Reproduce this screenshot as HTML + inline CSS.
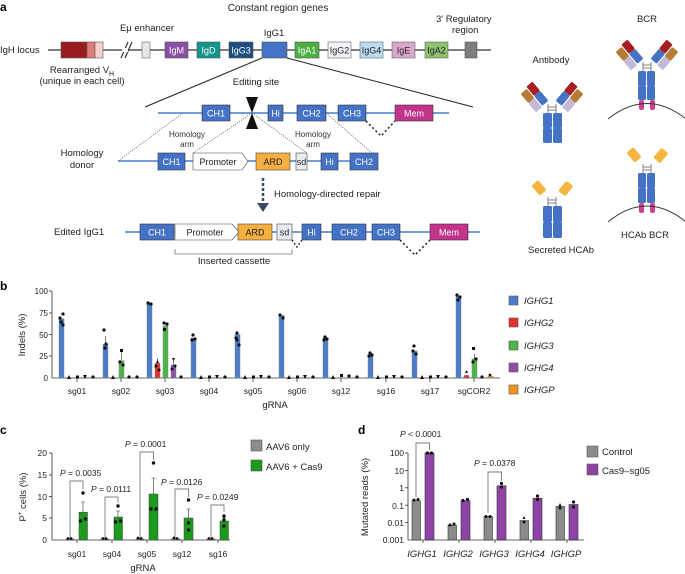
<!DOCTYPE html>
<html><head><meta charset="utf-8"><style>
html,body{margin:0;padding:0;background:#fff;}
svg{display:block;font-family:"Liberation Sans",sans-serif;}
</style></head><body>
<svg width="685" height="574" viewBox="0 0 685 574" xmlns="http://www.w3.org/2000/svg">
<!-- ===== Panel a ===== -->
<text x="0" y="11" font-size="12" font-weight="bold">a</text>
<text x="278" y="11" font-size="10" text-anchor="middle" fill="#222">Constant region genes</text>
<text x="147" y="31" font-size="9.5" text-anchor="middle" fill="#222">Eμ enhancer</text>
<text x="274" y="36" font-size="9.5" text-anchor="middle" fill="#222">IgG1</text>
<text x="436" y="22" font-size="9.5" fill="#222">3′ Regulatory</text>
<text x="452" y="33" font-size="9.5" fill="#222">region</text>
<text x="0" y="53" font-size="9.5" fill="#222">IgH locus</text>
<line x1="48" y1="50" x2="491" y2="50" stroke="#333" stroke-width="1.2"/>
<rect x="61" y="42" width="26" height="16" fill="#9b1c1f" stroke="#555" stroke-width="0.6"/>
<rect x="87" y="42" width="8" height="16" fill="#e07b7b" stroke="#555" stroke-width="0.6"/>
<rect x="95" y="42" width="8" height="16" fill="#f6d0d0" stroke="#555" stroke-width="0.6"/>
<line x1="121" y1="58" x2="128" y2="42" stroke="#333" stroke-width="1.2"/>
<line x1="125" y1="58" x2="132" y2="42" stroke="#333" stroke-width="1.2"/>
<rect x="122" y="48" width="6" height="4" fill="#fff"/>
<rect x="142" y="42" width="8" height="16" fill="#e8e8e8" stroke="#666" stroke-width="0.6"/>
<g font-size="9" text-anchor="middle">
<rect x="165" y="42" width="23" height="16" fill="#8b4fa8" stroke="#555" stroke-width="0.6"/><text x="176.5" y="53.5" fill="#fff">IgM</text>
<rect x="197" y="42" width="23" height="16" fill="#13968a" stroke="#555" stroke-width="0.6"/><text x="208.5" y="53.5" fill="#fff">IgD</text>
<rect x="229" y="42" width="24" height="16" fill="#1c4e80" stroke="#555" stroke-width="0.6"/><text x="241" y="53.5" fill="#fff">IgG3</text>
<rect x="262" y="42" width="25" height="16" fill="#4472c4" stroke="#555" stroke-width="0.6"/>
<rect x="295" y="42" width="24" height="16" fill="#4caf3f" stroke="#555" stroke-width="0.6"/><text x="307" y="53.5" fill="#fff">IgA1</text>
<rect x="328" y="42" width="23" height="16" fill="#f1f3f8" stroke="#666" stroke-width="0.6"/><text x="339.5" y="53.5" fill="#222">IgG2</text>
<rect x="360" y="42" width="23" height="16" fill="#bcdcf3" stroke="#666" stroke-width="0.6"/><text x="371.5" y="53.5" fill="#222">IgG4</text>
<rect x="392" y="42" width="23" height="16" fill="#d9a8cc" stroke="#666" stroke-width="0.6"/><text x="403.5" y="53.5" fill="#222">IgE</text>
<rect x="425" y="42" width="23" height="16" fill="#8dc26f" stroke="#666" stroke-width="0.6"/><text x="436.5" y="53.5" fill="#222">IgA2</text>
</g>
<rect x="465" y="42" width="12" height="16" fill="#7d7d7d" stroke="#555" stroke-width="0.6"/>
<text x="82" y="73" font-size="9.5" text-anchor="middle" fill="#222">Rearranged V<tspan font-size="7" dy="3">H</tspan></text>
<text x="82" y="84" font-size="9.5" text-anchor="middle" fill="#222">(unique in each cell)</text>
<line x1="145" y1="107" x2="262" y2="58" stroke="#222" stroke-width="1"/>
<line x1="287" y1="58" x2="473" y2="107" stroke="#222" stroke-width="1"/>
<text x="256" y="85" font-size="9.5" text-anchor="middle" fill="#222">Editing site</text>
<!-- row 2 -->
<line x1="158" y1="113" x2="449" y2="113" stroke="#4a7cd0" stroke-width="1.5"/>
<g font-size="9" text-anchor="middle" fill="#fff" stroke-width="0.6">
<rect x="202" y="105" width="28" height="16" fill="#4472c4" stroke="#334"/><text x="216" y="116.5" stroke="none">CH1</text>
<rect x="268" y="105" width="15" height="16" fill="#4472c4" stroke="#334"/><text x="275.5" y="116.5" stroke="none">Hi</text>
<rect x="297" y="105" width="29" height="16" fill="#4472c4" stroke="#334"/><text x="311.5" y="116.5" stroke="none">CH2</text>
<rect x="338" y="105" width="28" height="16" fill="#4472c4" stroke="#334"/><text x="352" y="116.5" stroke="none">CH3</text>
<rect x="395" y="105" width="38" height="16" fill="#c2338a" stroke="#334"/><text x="414" y="116.5" stroke="none">Mem</text>
</g>
<polyline points="366,121 381,136 395,121" fill="none" stroke="#222" stroke-width="1.5" stroke-dasharray="2,2.5"/>
<polygon points="246,97 258,97 252,113" fill="#111"/>
<polygon points="252,113 246,129 258,129" fill="#111"/>
<g stroke="#555" stroke-width="0.7" stroke-dasharray="1.2,1.2" fill="none">
<line x1="183" y1="113" x2="118" y2="161"/>
<line x1="252" y1="113" x2="193" y2="153"/>
<line x1="252" y1="113" x2="307" y2="153"/>
<line x1="326" y1="113" x2="372" y2="153"/>
</g>
<g font-size="8" text-anchor="middle" fill="#333">
<text x="187" y="137">Homology</text><text x="187" y="147">arm</text>
<text x="313" y="137">Homology</text><text x="313" y="147">arm</text>
</g>
<text x="82" y="156" font-size="9.5" text-anchor="middle" fill="#222">Homology</text>
<text x="82" y="168" font-size="9.5" text-anchor="middle" fill="#222">donor</text>
<!-- row 3 -->
<line x1="118" y1="161" x2="378" y2="161" stroke="#4a7cd0" stroke-width="1.5"/>
<g font-size="9" text-anchor="middle" stroke-width="0.6">
<rect x="158" y="153" width="27" height="17" fill="#4472c4" stroke="#334"/><text x="171.5" y="165" fill="#fff">CH1</text>
<polygon points="193,153 242,153 248,161.5 242,170 193,170" fill="#fff" stroke="#444"/><text x="218" y="165" fill="#222">Promoter</text>
<rect x="256" y="153" width="34" height="17" fill="#f5b041" stroke="#444"/><text x="273" y="165" fill="#222">ARD</text>
<rect x="296" y="153" width="11" height="17" fill="#e8ecf2" stroke="#444"/><text x="301.5" y="165" fill="#222">sd</text>
<rect x="321" y="153" width="17" height="17" fill="#4472c4" stroke="#334"/><text x="329.5" y="165" fill="#fff">Hi</text>
<rect x="350" y="153" width="28" height="17" fill="#4472c4" stroke="#334"/><text x="364" y="165" fill="#fff">CH2</text>
</g>
<line x1="263" y1="178" x2="263" y2="204" stroke="#3a4a63" stroke-width="2.5" stroke-dasharray="3,2"/>
<polygon points="257,203 269,203 263,212" fill="#3a4a63"/>
<text x="274" y="197" font-size="9.5" fill="#222">Homology-directed repair</text>
<!-- row 4 -->
<text x="54" y="235" font-size="9.5" fill="#222">Edited IgG1</text>
<line x1="125" y1="232" x2="480" y2="232" stroke="#4a7cd0" stroke-width="1.5"/>
<g font-size="9" text-anchor="middle" stroke-width="0.6">
<rect x="140" y="224" width="34" height="16" fill="#4472c4" stroke="#334"/><text x="157" y="235.5" fill="#fff">CH1</text>
<polygon points="175,224 232,224 239,232 232,240 175,240" fill="#fff" stroke="#444"/><text x="205" y="235.5" fill="#222">Promoter</text>
<rect x="238" y="224" width="34" height="16" fill="#f5b041" stroke="#444"/><text x="255" y="235.5" fill="#222">ARD</text>
<rect x="277" y="224" width="15" height="16" fill="#e8ecf2" stroke="#444"/><text x="284.5" y="235.5" fill="#222">sd</text>
<rect x="302" y="224" width="19" height="16" fill="#4472c4" stroke="#334"/><text x="311.5" y="235.5" fill="#fff">Hi</text>
<rect x="332" y="224" width="34" height="16" fill="#4472c4" stroke="#334"/><text x="349" y="235.5" fill="#fff">CH2</text>
<rect x="372" y="224" width="28" height="16" fill="#4472c4" stroke="#334"/><text x="386" y="235.5" fill="#fff">CH3</text>
<rect x="430" y="224" width="38" height="16" fill="#c2338a" stroke="#334"/><text x="449" y="235.5" fill="#fff">Mem</text>
</g>
<polyline points="292,240 297,247 302,240" fill="none" stroke="#222" stroke-width="1.4" stroke-dasharray="1.8,2"/>
<polyline points="400,240 415,255 430,240" fill="none" stroke="#222" stroke-width="1.5" stroke-dasharray="2,2.5"/>
<polyline points="175,249 175,254 292,254 292,249" fill="none" stroke="#777" stroke-width="0.8"/>
<text x="234" y="264" font-size="9.5" text-anchor="middle" fill="#222">Inserted cassette</text>

<!-- antibodies -->
<defs>
<g id="armL"><rect x="-4" y="-14" width="8" height="13" rx="1.5" fill="#4472c4"/><rect x="-4" y="-26" width="8" height="12" rx="1.5" fill="#a61e22"/><rect x="-13" y="-12" width="8" height="12" rx="1.5" fill="#c4b8dc"/><rect x="-13" y="-24" width="8" height="12" rx="1.5" fill="#b57d33"/></g>
<g id="armR"><rect x="-4" y="-14" width="8" height="13" rx="1.5" fill="#4472c4"/><rect x="-4" y="-26" width="8" height="12" rx="1.5" fill="#a61e22"/><rect x="5" y="-12" width="8" height="12" rx="1.5" fill="#c4b8dc"/><rect x="5" y="-24" width="8" height="12" rx="1.5" fill="#b57d33"/></g>
<g id="hc"><rect x="-4" y="-18" width="9" height="13" rx="2" fill="#f5b63f"/></g>
<g id="ladder" stroke="#666" stroke-width="0.8" fill="none"><line x1="-4" y1="0" x2="-4" y2="9"/><line x1="4" y1="0" x2="4" y2="9"/><line x1="-4" y1="3" x2="4" y2="3"/><line x1="-4" y1="6" x2="4" y2="6"/></g>
</defs>
<text x="551" y="63" font-size="9.5" text-anchor="middle" fill="#222">Antibody</text>
<use href="#ladder" x="552" y="104"/>
<rect x="543" y="113" width="9" height="15" rx="1.5" fill="#4472c4"/><rect x="543" y="128" width="9" height="15" rx="1.5" fill="#4472c4"/>
<rect x="553" y="113" width="9" height="15" rx="1.5" fill="#4472c4"/><rect x="553" y="128" width="9" height="15" rx="1.5" fill="#4472c4"/>
<use href="#armL" transform="translate(546,104) rotate(-40)"/>
<use href="#armR" transform="translate(558,104) rotate(40)"/>

<text x="647" y="22" font-size="9.5" text-anchor="middle" fill="#222">BCR</text>
<use href="#ladder" x="647" y="62"/>
<rect x="638" y="71" width="8" height="15" rx="1.5" fill="#4472c4"/><rect x="638" y="86" width="8" height="14" rx="1.5" fill="#4472c4"/>
<rect x="647" y="71" width="8" height="15" rx="1.5" fill="#4472c4"/><rect x="647" y="86" width="8" height="14" rx="1.5" fill="#4472c4"/>
<rect x="639" y="100" width="5" height="10" rx="2" fill="#d0408f"/><rect x="650" y="100" width="5" height="10" rx="2" fill="#d0408f"/>
<use href="#armL" transform="translate(641,62) rotate(-40)"/>
<use href="#armR" transform="translate(653,62) rotate(40)"/>
<path d="M608,119 Q647,88 686,119" fill="none" stroke="#333" stroke-width="0.9"/>

<use href="#ladder" x="552" y="197"/>
<rect x="543" y="206" width="9" height="16" rx="1.5" fill="#4472c4"/><rect x="543" y="222" width="9" height="16" rx="1.5" fill="#4472c4"/>
<rect x="553" y="206" width="9" height="16" rx="1.5" fill="#4472c4"/><rect x="553" y="222" width="9" height="16" rx="1.5" fill="#4472c4"/>
<use href="#hc" transform="translate(546,197) rotate(-40)"/>
<use href="#hc" transform="translate(558,197) rotate(40)"/>
<text x="561" y="253" font-size="9.5" text-anchor="middle" fill="#222">Secreted HCAb</text>

<use href="#ladder" x="647" y="164"/>
<rect x="638" y="173" width="8" height="15" rx="1.5" fill="#4472c4"/><rect x="638" y="188" width="8" height="15" rx="1.5" fill="#4472c4"/>
<rect x="647" y="173" width="8" height="15" rx="1.5" fill="#4472c4"/><rect x="647" y="188" width="8" height="15" rx="1.5" fill="#4472c4"/>
<rect x="639" y="203" width="5" height="10" rx="2" fill="#d0408f"/><rect x="650" y="203" width="5" height="10" rx="2" fill="#d0408f"/>
<use href="#hc" transform="translate(641,164) rotate(-40)"/>
<use href="#hc" transform="translate(653,164) rotate(40)"/>
<path d="M608,222 Q647,190 686,222" fill="none" stroke="#333" stroke-width="0.9"/>
<text x="645" y="238" font-size="9.5" text-anchor="middle" fill="#222">HCAb BCR</text>

<!-- ===== Panel b ===== -->
<text x="0" y="290" font-size="12" font-weight="bold">b</text>
<text transform="translate(25,335) rotate(-90)" font-size="9.5" text-anchor="middle" fill="#222">Indels (%)</text>
<g font-size="8" text-anchor="end" fill="#222">
<text x="48" y="294">100</text><text x="48" y="316">75</text><text x="48" y="338">50</text><text x="48" y="359">25</text><text x="48" y="381">0</text>
</g>
<g stroke="#333" stroke-width="0.8">
<line x1="52" y1="291" x2="52" y2="378"/><line x1="52" y1="378" x2="500" y2="378"/>
<line x1="49" y1="291" x2="52" y2="291"/><line x1="49" y1="313" x2="52" y2="313"/><line x1="49" y1="334.5" x2="52" y2="334.5"/><line x1="49" y1="356" x2="52" y2="356"/>
<line x1="77" y1="378" x2="77" y2="382"/><line x1="121" y1="378" x2="121" y2="382"/><line x1="165" y1="378" x2="165" y2="382"/><line x1="209" y1="378" x2="209" y2="382"/><line x1="253" y1="378" x2="253" y2="382"/><line x1="297" y1="378" x2="297" y2="382"/><line x1="341" y1="378" x2="341" y2="382"/><line x1="386" y1="378" x2="386" y2="382"/><line x1="430" y1="378" x2="430" y2="382"/><line x1="474" y1="378" x2="474" y2="382"/>
</g>
<g stroke="#888" stroke-width="0.5">
<rect x="59" y="318.8" width="5" height="59.2" fill="#4a7cc7"/>
<rect x="103" y="344.1" width="5" height="33.9" fill="#4a7cc7"/>
<rect x="119" y="360.6" width="5" height="17.4" fill="#4db34a"/>
<rect x="147" y="303.2" width="5" height="74.8" fill="#4a7cc7"/>
<rect x="155" y="363.2" width="5" height="14.8" fill="#e8312a"/>
<rect x="163" y="325.8" width="5" height="52.2" fill="#4db34a"/>
<rect x="171" y="365" width="5" height="13" fill="#8e4fa6"/>
<rect x="191" y="338" width="5" height="40" fill="#4a7cc7"/>
<rect x="235" y="334.5" width="5" height="43.5" fill="#4a7cc7"/>
<rect x="279" y="315.4" width="5" height="62.6" fill="#4a7cc7"/>
<rect x="323" y="338" width="5" height="40" fill="#4a7cc7"/>
<rect x="368" y="355.4" width="5" height="22.6" fill="#4a7cc7"/>
<rect x="412" y="351" width="5" height="27" fill="#4a7cc7"/>
<rect x="456" y="296.2" width="5" height="81.8" fill="#4a7cc7"/>
<rect x="464" y="375.4" width="5" height="2.6" fill="#e8312a"/>
<rect x="472" y="358.9" width="5" height="19.1" fill="#4db34a"/>
<rect x="488" y="376.3" width="5" height="1.7" fill="#f7941d"/>
</g>
<g stroke="#333" stroke-width="0.6">
<line x1="105.5" y1="344" x2="105.5" y2="336"/><line x1="121.5" y1="360" x2="121.5" y2="352"/><line x1="157.5" y1="363" x2="157.5" y2="358"/><line x1="173.5" y1="365" x2="173.5" y2="359"/><line x1="474.5" y1="359" x2="474.5" y2="354"/>
</g>
<g fill="#111">
<circle cx="60" cy="318" r="1.6"/><circle cx="63" cy="314" r="1.6"/><circle cx="61" cy="322" r="1.6"/><circle cx="63" cy="325" r="1.6"/>
<circle cx="104" cy="330" r="1.6"/><circle cx="106" cy="344" r="1.6"/><circle cx="105" cy="348" r="1.6"/>
<rect x="120" y="349" width="3" height="3"/><circle cx="120" cy="362" r="1.6"/><circle cx="123" cy="365" r="1.6"/>
<circle cx="148" cy="303" r="1.6"/><circle cx="151" cy="304" r="1.6"/>
<polygon points="157.5,360 156,363 159,363"/><circle cx="156" cy="366" r="1.5"/><circle cx="159" cy="370" r="1.5"/>
<circle cx="164" cy="323" r="1.6"/><circle cx="167" cy="324" r="1.6"/><rect x="163" y="328" width="3" height="3"/>
<polygon points="172,358 175,358 173.5,361"/><circle cx="172" cy="369" r="1.5"/><circle cx="175" cy="366" r="1.5"/>
<circle cx="193" cy="335" r="1.6"/><circle cx="192" cy="340" r="1.6"/><circle cx="195" cy="339" r="1.6"/>
<circle cx="237" cy="333" r="1.6"/><circle cx="236" cy="338" r="1.6"/><circle cx="239" cy="345" r="1.6"/><circle cx="237" cy="340" r="1.6"/>
<circle cx="280" cy="315" r="1.6"/><circle cx="283" cy="318" r="1.6"/>
<circle cx="325" cy="337" r="1.6"/><circle cx="324" cy="340" r="1.6"/><circle cx="327" cy="339" r="1.6"/>
<circle cx="370" cy="353" r="1.6"/><circle cx="369" cy="356" r="1.6"/><circle cx="372" cy="355" r="1.6"/>
<circle cx="414" cy="346" r="1.6"/><circle cx="413" cy="351" r="1.6"/><circle cx="416" cy="354" r="1.6"/>
<circle cx="457" cy="295" r="1.6"/><circle cx="460" cy="297" r="1.6"/><circle cx="458" cy="300" r="1.6"/>
<polygon points="466.5,370 465,373 468,373"/>
<rect x="472" y="347" width="3" height="3"/><circle cx="473" cy="362" r="1.6"/><circle cx="476" cy="359" r="1.6"/>
</g>
<g fill="#111">
<polygon points="69,379 67,375 71,375" transform="rotate(180 69 377)"/><rect x="76" y="375.5" width="3" height="3"/><polygon points="83,375 87,375 85,379"/><circle cx="93" cy="377" r="1.6"/>
<polygon points="113,379 111,375 115,375" transform="rotate(180 113 377)"/><circle cx="129" cy="377" r="1.6"/><circle cx="137" cy="377" r="1.6"/>
<circle cx="181" cy="377" r="1.6"/>
<polygon points="201,379 199,375 203,375" transform="rotate(180 201 377)"/><rect x="208" y="375.5" width="3" height="3"/><polygon points="215,375 219,375 217,379"/><circle cx="225" cy="377" r="1.6"/>
<polygon points="245,379 243,375 247,375" transform="rotate(180 245 377)"/><rect x="252" y="375.5" width="3" height="3"/><polygon points="259,375 263,375 261,379"/><circle cx="269" cy="377" r="1.6"/>
<polygon points="289,379 287,375 291,375" transform="rotate(180 289 377)"/><rect x="296" y="375.5" width="3" height="3"/><polygon points="303,375 307,375 305,379"/><circle cx="313" cy="377" r="1.6"/>
<polygon points="333,379 331,375 335,375" transform="rotate(180 333 377)"/><rect x="340" y="374" width="3" height="3"/><circle cx="349" cy="376" r="1.6"/><circle cx="357" cy="377" r="1.6"/>
<polygon points="378,379 376,375 380,375" transform="rotate(180 378 377)"/><rect x="385" y="375.5" width="3" height="3"/><polygon points="392,375 396,375 394,379"/><circle cx="402" cy="377" r="1.6"/>
<polygon points="422,379 420,375 424,375" transform="rotate(180 422 377)"/><rect x="429" y="375.5" width="3" height="3"/><polygon points="436,375 440,375 438,379"/><circle cx="446" cy="377" r="1.6"/>
<circle cx="482" cy="377" r="1.6"/><circle cx="490" cy="375" r="1.4"/>
</g>
<g font-size="8.5" text-anchor="middle" fill="#222">
<text x="77" y="394">sg01</text><text x="121" y="394">sg02</text><text x="165" y="394">sg03</text><text x="209" y="394">sg04</text><text x="253" y="394">sg05</text><text x="297" y="394">sg06</text><text x="341" y="394">sg12</text><text x="386" y="394">sg16</text><text x="430" y="394">sg17</text><text x="474" y="394">sgCOR2</text>
<text x="275" y="408" font-size="9.5">gRNA</text>
</g>
<g stroke="#555" stroke-width="0.6">
<rect x="509" y="296" width="9" height="9" fill="#4a7cc7"/>
<rect x="509" y="318" width="9" height="9" fill="#e8312a"/>
<rect x="509" y="341" width="9" height="9" fill="#4db34a"/>
<rect x="509" y="363" width="9" height="9" fill="#8e4fa6"/>
<rect x="509" y="385" width="9" height="9" fill="#f7941d"/>
</g>
<g font-size="9.5" font-style="italic" fill="#222">
<text x="524" y="304">IGHG1</text><text x="524" y="326">IGHG2</text><text x="524" y="349">IGHG3</text><text x="524" y="371">IGHG4</text><text x="524" y="393">IGHGP</text>
</g>

<!-- ===== Panel c ===== -->
<text x="0" y="434" font-size="12" font-weight="bold">c</text>
<text transform="translate(26,497) rotate(-90)" font-size="9.5" text-anchor="middle" fill="#222">P<tspan font-size="6" dy="-4">+</tspan><tspan dy="4"> cells (%)</tspan></text>
<g font-size="8.5" text-anchor="end" fill="#222">
<text x="47" y="456">20</text><text x="47" y="478">15</text><text x="47" y="500">10</text><text x="47" y="521">5</text><text x="47" y="543">0</text>
</g>
<g stroke="#333" stroke-width="0.8">
<line x1="52" y1="453" x2="52" y2="540"/><line x1="52" y1="540" x2="230" y2="540"/>
<line x1="49" y1="453" x2="52" y2="453"/><line x1="49" y1="475" x2="52" y2="475"/><line x1="49" y1="496.5" x2="52" y2="496.5"/><line x1="49" y1="518" x2="52" y2="518"/>
<line x1="77" y1="540" x2="77" y2="543"/><line x1="112" y1="540" x2="112" y2="543"/><line x1="147" y1="540" x2="147" y2="543"/><line x1="182" y1="540" x2="182" y2="543"/><line x1="218" y1="540" x2="218" y2="543"/>
</g>
<g stroke="#444" stroke-width="0.5">
<rect x="66" y="539" width="8" height="1" fill="#8c8c8c"/><rect x="101" y="539" width="8" height="1" fill="#8c8c8c"/><rect x="136" y="539" width="8" height="1" fill="#8c8c8c"/><rect x="171" y="539" width="9" height="1" fill="#8c8c8c"/><rect x="207" y="539" width="8" height="1" fill="#8c8c8c"/>
<rect x="79" y="512.2" width="8.5" height="27.8" fill="#1b9a1b"/>
<rect x="114" y="517" width="8.5" height="23" fill="#1b9a1b"/>
<rect x="149" y="494" width="9" height="46" fill="#1b9a1b"/>
<rect x="184" y="518" width="9" height="22" fill="#1b9a1b"/>
<rect x="220" y="521" width="8.5" height="19" fill="#1b9a1b"/>
</g>
<g stroke="#333" stroke-width="0.6" fill="none">
<path d="M81,502 h4 M83,502 v10"/><path d="M116,511 h4 M118,511 v6"/><path d="M151.5,478 h4 M153.5,478 v16"/><path d="M186.5,509 h4 M188.5,509 v9"/><path d="M222,518 h4 M224,518 v3"/>
</g>
<g fill="#111">
<circle cx="68" cy="538.5" r="1.4"/><circle cx="71" cy="538.5" r="1.4"/><circle cx="103" cy="538.5" r="1.4"/><circle cx="106" cy="538.5" r="1.4"/><circle cx="138" cy="538" r="1.4"/><circle cx="141" cy="538.5" r="1.4"/><circle cx="174" cy="538" r="1.4"/><circle cx="177" cy="538.5" r="1.4"/><circle cx="209" cy="538.5" r="1.4"/><circle cx="212" cy="538.5" r="1.4"/>
<circle cx="83" cy="493" r="1.7"/><circle cx="80.5" cy="521" r="1.7"/><circle cx="85.5" cy="519" r="1.7"/>
<circle cx="118" cy="506" r="1.7"/><circle cx="115.5" cy="522" r="1.7"/><circle cx="120.5" cy="521" r="1.7"/>
<circle cx="153.5" cy="463" r="1.7"/><circle cx="151" cy="509" r="1.7"/><circle cx="156" cy="509" r="1.7"/>
<circle cx="188.5" cy="500" r="1.7"/><circle cx="188.5" cy="523" r="1.7"/><circle cx="188.5" cy="530" r="1.7"/>
<circle cx="224" cy="516" r="1.7"/><circle cx="224" cy="520" r="1.7"/><circle cx="224" cy="526" r="1.7"/>
</g>
<g stroke="#555" stroke-width="0.7" fill="none">
<polyline points="70,537 70,481 83,481 83,489"/>
<polyline points="105,537 105,497 118,497 118,503"/>
<polyline points="140,537 140,452 153.5,452 153.5,460"/>
<polyline points="175,537 175,489 188.5,489 188.5,497"/>
<polyline points="211,537 211,505 224,505 224,512"/>
</g>
<g font-size="8.5" fill="#222">
<text x="60" y="476"><tspan font-style="italic">P</tspan> = 0.0035</text>
<text x="91" y="492"><tspan font-style="italic">P</tspan> = 0.0111</text>
<text x="125" y="447"><tspan font-style="italic">P</tspan> = 0.0001</text>
<text x="161" y="485"><tspan font-style="italic">P</tspan> = 0.0126</text>
<text x="197" y="500"><tspan font-style="italic">P</tspan> = 0.0249</text>
</g>
<g font-size="8.5" text-anchor="middle" fill="#222">
<text x="77" y="557">sg01</text><text x="112" y="557">sg04</text><text x="147" y="557">sg05</text><text x="182" y="557">sg12</text><text x="218" y="557">sg16</text>
<text x="143" y="571" font-size="9.5">gRNA</text>
</g>
<rect x="251" y="440" width="11" height="11" fill="#8c8c8c" stroke="#555" stroke-width="0.6"/>
<rect x="251" y="460" width="11" height="11" fill="#1b9a1b" stroke="#555" stroke-width="0.6"/>
<text x="266" y="450" font-size="9.5" fill="#222">AAV6 only</text>
<text x="266" y="470" font-size="9.5" fill="#222">AAV6 + Cas9</text>

<!-- ===== Panel d ===== -->
<text x="358" y="434" font-size="12" font-weight="bold">d</text>
<text transform="translate(368,497) rotate(-90)" font-size="9.5" text-anchor="middle" fill="#222">Mutated reads (%)</text>
<g font-size="8.5" text-anchor="end" fill="#222">
<text x="404" y="456">100</text><text x="404" y="474">10</text><text x="404" y="491">1</text><text x="404" y="509">0.1</text><text x="404" y="526">0.01</text><text x="404" y="543">0.001</text>
</g>
<g stroke="#333" stroke-width="0.8">
<line x1="408" y1="453" x2="408" y2="540"/><line x1="408" y1="540" x2="584" y2="540"/>
<line x1="405" y1="453" x2="408" y2="453"/><line x1="405" y1="470.4" x2="408" y2="470.4"/><line x1="405" y1="487.8" x2="408" y2="487.8"/><line x1="405" y1="505.2" x2="408" y2="505.2"/><line x1="405" y1="522.6" x2="408" y2="522.6"/>
<line x1="423" y1="540" x2="423" y2="543"/><line x1="459" y1="540" x2="459" y2="543"/><line x1="495" y1="540" x2="495" y2="543"/><line x1="531" y1="540" x2="531" y2="543"/><line x1="567" y1="540" x2="567" y2="543"/>
</g>
<g stroke="#333" stroke-width="0.6">
<rect x="412" y="500.8" width="8.5" height="39.2" fill="#8c8c8c"/><rect x="425" y="453" width="9" height="87" fill="#8e44a6"/>
<rect x="448" y="525.3" width="8.5" height="14.7" fill="#8c8c8c"/><rect x="461" y="500.8" width="9" height="39.2" fill="#8e44a6"/>
<rect x="484" y="516.7" width="8.5" height="23.3" fill="#8c8c8c"/><rect x="497" y="485.8" width="9" height="54.2" fill="#8e44a6"/>
<rect x="520" y="520.6" width="8.5" height="19.4" fill="#8c8c8c"/><rect x="533" y="498.2" width="9" height="41.8" fill="#8e44a6"/>
<rect x="556" y="506.4" width="8.5" height="33.6" fill="#8c8c8c"/><rect x="569" y="504.5" width="9" height="35.5" fill="#8e44a6"/>
</g>
<g fill="#111">
<circle cx="414" cy="500" r="1.5"/><circle cx="418" cy="499.5" r="1.5"/><circle cx="427.5" cy="453" r="1.6"/><circle cx="431.5" cy="453" r="1.6"/>
<circle cx="450" cy="525" r="1.5"/><circle cx="454" cy="524" r="1.5"/><circle cx="463" cy="500.5" r="1.6"/><circle cx="467.5" cy="499.5" r="1.6"/>
<circle cx="486" cy="516.5" r="1.5"/><circle cx="490" cy="516.5" r="1.5"/><circle cx="501.5" cy="483.5" r="1.6"/><circle cx="501.5" cy="487" r="1.6"/>
<polygon points="524,516 522.5,519 525.5,519"/><circle cx="524" cy="522" r="1.5"/><circle cx="537.5" cy="496" r="1.6"/><circle cx="537.5" cy="499.5" r="1.6"/>
<polygon points="560,503 558.5,506 561.5,506"/><circle cx="560" cy="508" r="1.5"/><circle cx="573.5" cy="502" r="1.6"/><circle cx="573.5" cy="507" r="1.6"/>
</g>
<g stroke="#555" stroke-width="0.7" fill="none">
<polyline points="416,497 416,443 429.5,443 429.5,450"/>
<polyline points="488,513 488,472 501.5,472 501.5,481"/>
</g>
<g font-size="8.5" fill="#222">
<text x="400" y="437"><tspan font-style="italic">P</tspan> &lt; 0.0001</text>
<text x="474" y="466"><tspan font-style="italic">P</tspan> = 0.0378</text>
</g>
<g font-size="9.5" font-style="italic" text-anchor="middle" fill="#222">
<text x="422" y="557">IGHG1</text><text x="458" y="557">IGHG2</text><text x="494" y="557">IGHG3</text><text x="530" y="557">IGHG4</text><text x="566" y="557">IGHGP</text>
</g>
<rect x="587" y="446" width="11" height="11" fill="#8c8c8c" stroke="#555" stroke-width="0.6"/>
<rect x="587" y="464" width="11" height="11" fill="#8e44a6" stroke="#555" stroke-width="0.6"/>
<text x="602" y="455" font-size="9.5" fill="#222">Control</text>
<text x="602" y="474" font-size="9.5" fill="#222">Cas9–sg05</text>
</svg>
</body></html>
